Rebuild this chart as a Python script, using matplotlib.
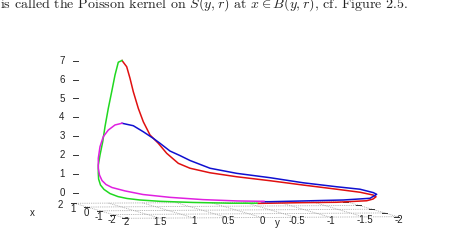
import numpy as np
import matplotlib
matplotlib.use('Agg')
import matplotlib.pyplot as plt

# screen size in pixels, the z axis is the only real data axis
W, H = 474, 243
Z0_PIX = 193.0      # pixel row of z = 0
PX_PER_Z = 18.9     # pixels per z unit

def pz(py):
    return (Z0_PIX - py) / PX_PER_Z

# curves: h = horizontal screen position, z = height
green_h = [122, 118.3, 115, 111.7, 108.3, 105, 102.7, 100, 98.3, 98.3, 98.6, 100.5, 104, 110, 118, 127, 140, 160, 193, 230, 257]
green_z = [7.01, 6.92, 6.24, 5.36, 4.48, 3.51, 2.71, 2.01, 1.48, 1.04, 0.74, 0.42, 0.19, -0.03, -0.19, -0.29, -0.37, -0.44, -0.50, -0.54, -0.54]

red_h = [122, 126.7, 130, 133.3, 138.3, 143.3, 150, 158.3, 166.7, 178.3, 190, 210, 236.7, 270, 303.3, 336.7, 360, 373.3, 376, 373, 366.7, 336.7, 303.3, 270, 258]
red_z = [7.01, 6.68, 6.07, 5.36, 4.48, 3.77, 3.07, 2.63, 2.10, 1.57, 1.31, 1.07, 0.86, 0.65, 0.42, 0.20, 0.04, -0.11, -0.20, -0.32, -0.41, -0.49, -0.51, -0.54, -0.55]

blue_h = [122, 133.3, 143.3, 153.3, 160, 170, 180, 190, 210, 236.7, 270, 303.3, 336.7, 360, 373.3, 376.7, 370, 343.3, 303.3, 270, 262]
blue_z = [3.69, 3.56, 3.24, 2.89, 2.63, 2.22, 1.98, 1.72, 1.31, 1.04, 0.81, 0.54, 0.33, 0.20, 0.02, -0.07, -0.28, -0.37, -0.42, -0.46, -0.46]

mag_h = [122, 115, 108.3, 103.3, 100, 98.3, 98.3, 99.5, 102, 106, 112, 125, 143, 170, 203, 237, 264]
mag_z = [3.69, 3.60, 3.33, 2.98, 2.45, 1.84, 1.31, 0.95, 0.66, 0.45, 0.29, 0.11, -0.08, -0.23, -0.35, -0.42, -0.44]

z_ticks = [0, 1, 2, 3, 4, 5, 6, 7]
x_ticks = [2, 1, 0, -1, -2]
y_ticks = [2, 1.5, 1, 0.5, 0, -0.5, -1, -1.5, -2]

title = r"is called the Poisson kernel on $S(y,r)$ at $x \in B(y,r)$, cf. Figure 2.5."

plt.rcParams['mathtext.fontset'] = 'cm'

# floor plane projection (pixels)
def floor(xv, yv):
    px = 236 + xv * (-12.75) + yv * (-68.0)
    py = 210 + xv * (-3.75) + yv * 0.4
    return px, pz(py)

fig = plt.figure(figsize=(W / 100, H / 100), dpi=100)
ax = fig.add_axes([0, 0, 1, 1])
ax.set_xlim(0, W)
ax.set_ylim(pz(H), pz(0))
ax.axis('off')

grid_kw = dict(color='#a0a0a0', lw=0.6, ls=(0, (1, 1.2)), zorder=1)
for yv in y_ticks:
    (a, b), (c, d) = floor(2, yv), floor(-2, yv)
    ax.plot([a, c], [b, d], **grid_kw)
for xv in x_ticks:
    (a, b), (c, d) = floor(xv, 2), floor(xv, -2)
    ax.plot([a, c], [b, d], **grid_kw)

tick_font = dict(fontsize=7, family='Liberation Sans', color='#222222')

# x tick marks and labels on the left edge, marks on the right edge
for xv in x_ticks:
    a, b = floor(xv, 2)
    ax.plot([a - 3, a + 2], [b, b], color='#333333', lw=0.7)
    ax.text(a - 14, b - 2 / PX_PER_Z, f"{xv:g}", ha='center', va='center', **tick_font)
    a, b = floor(xv, -2)
    ax.plot([a - 3, a + 2], [b, b], color='#333333', lw=0.7)

for yv in y_ticks:
    a, b = floor(-2, yv)
    ax.text(a + 1, b - 3.5 / PX_PER_Z, f"{yv:g}", ha='center', va='center', **tick_font)

# z axis ticks
for zv in z_ticks:
    ax.plot([73, 78], [zv, zv], color='#333333', lw=0.7)
    ax.text(62, zv, str(zv), ha='center', va='center', **tick_font)

ax.text(32, pz(213), 'x', ha='center', va='center', **tick_font)
ax.text(277, pz(223), 'y', ha='center', va='center', **tick_font)

lw = 1.1
ax.plot(red_h, red_z, color='#e01010', lw=lw, zorder=3, solid_joinstyle='round')
ax.plot(green_h, green_z, color='#20d820', lw=lw, zorder=3, solid_joinstyle='round')
ax.plot(blue_h, blue_z, color='#1010d0', lw=lw, zorder=4, solid_joinstyle='round')
ax.plot(mag_h, mag_z, color='#e020e0', lw=lw, zorder=4, solid_joinstyle='round')

fig.text(-0.5 / W, 1 - 8 / H, title, family='cmr10', fontsize=10.1,
         ha='left', va='baseline', color='#222222')

fig.savefig('out.png', dpi=100)
